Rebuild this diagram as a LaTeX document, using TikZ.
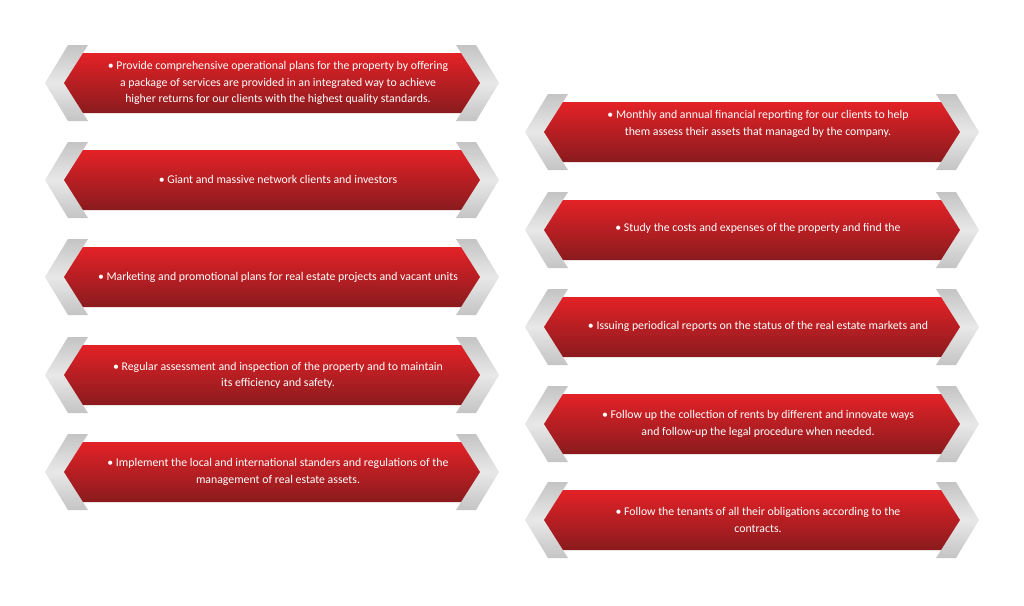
\documentclass[tikz,border=0pt]{standalone}
\usepackage{fontspec}
\setmainfont{Carlito}
\definecolor{redtop}{HTML}{E32227}
\definecolor{redbot}{HTML}{8A1B1E}
\definecolor{grayedge}{HTML}{C4C4C4}
\definecolor{graymid}{HTML}{E8E8E8}
\tikzset{
 redpart/.style={top color=redtop, bottom color=redbot},
 graypart/.style={top color=grayedge, bottom color=grayedge, middle color=graymid},
 txt/.style={text=white, align=center, font=\fontsize{11.8}{16.3}\selectfont, inner sep=0pt}
}
\newcommand\chevbox[5][0]{%
 \begin{scope}[shift={(#3,#4)}]
  \shade[graypart] (23,-38) -- (43,-38) -- (19,0) -- (43,38) -- (23,38) -- (0,0) -- cycle;
  \shade[graypart] (431,-38) -- (411,-38) -- (435,0) -- (411,38) -- (431,38) -- (454,0) -- cycle;
  \shade[redpart] (19,0) -- (38,-30) -- (416,-30) -- (435,0) -- (416,30) -- (38,30) -- cycle;
  \node[txt] (#2) at (233,#1) {#5};
 \end{scope}}
\begin{document}
\begin{tikzpicture}[x=1pt,y=-1pt]
\useasboundingbox[fill=white] (0,0) rectangle (1024,605);
\chevbox{l1}{45}{83}{• Provide comprehensive operational plans for the property by offering\\ a package of services are provided in an integrated way to achieve\\ higher returns for our clients with the highest quality standards.}
\chevbox[-1]{l2}{45}{180}{• Giant and massive network clients and investors}
\chevbox{l3}{45}{277}{• Marketing and promotional plans for real estate projects and vacant units}
\chevbox{l4}{45}{375}{• Regular assessment and inspection of the property and to maintain\\ its efficiency and safety.}
\chevbox{l5}{45}{472}{• Implement the local and international standers and regulations of the\\ management of real estate assets.}
\chevbox[-8]{r1}{525}{132}{• Monthly and annual financial reporting for our clients to help\\ them assess their assets that managed by the company.}
\chevbox[-2]{r2}{525}{230}{• Study the costs and expenses of the property and find the}
\chevbox[-1]{r3}{525}{327}{• Issuing periodical reports on the status of the real estate markets and}
\chevbox{r4}{525}{424}{• Follow up the collection of rents by different and innovate ways\\ and follow-up the legal procedure when needed.}
\chevbox{r5}{525}{520}{• Follow the tenants of all their obligations according to the\\ contracts.}
\end{tikzpicture}
\end{document}
